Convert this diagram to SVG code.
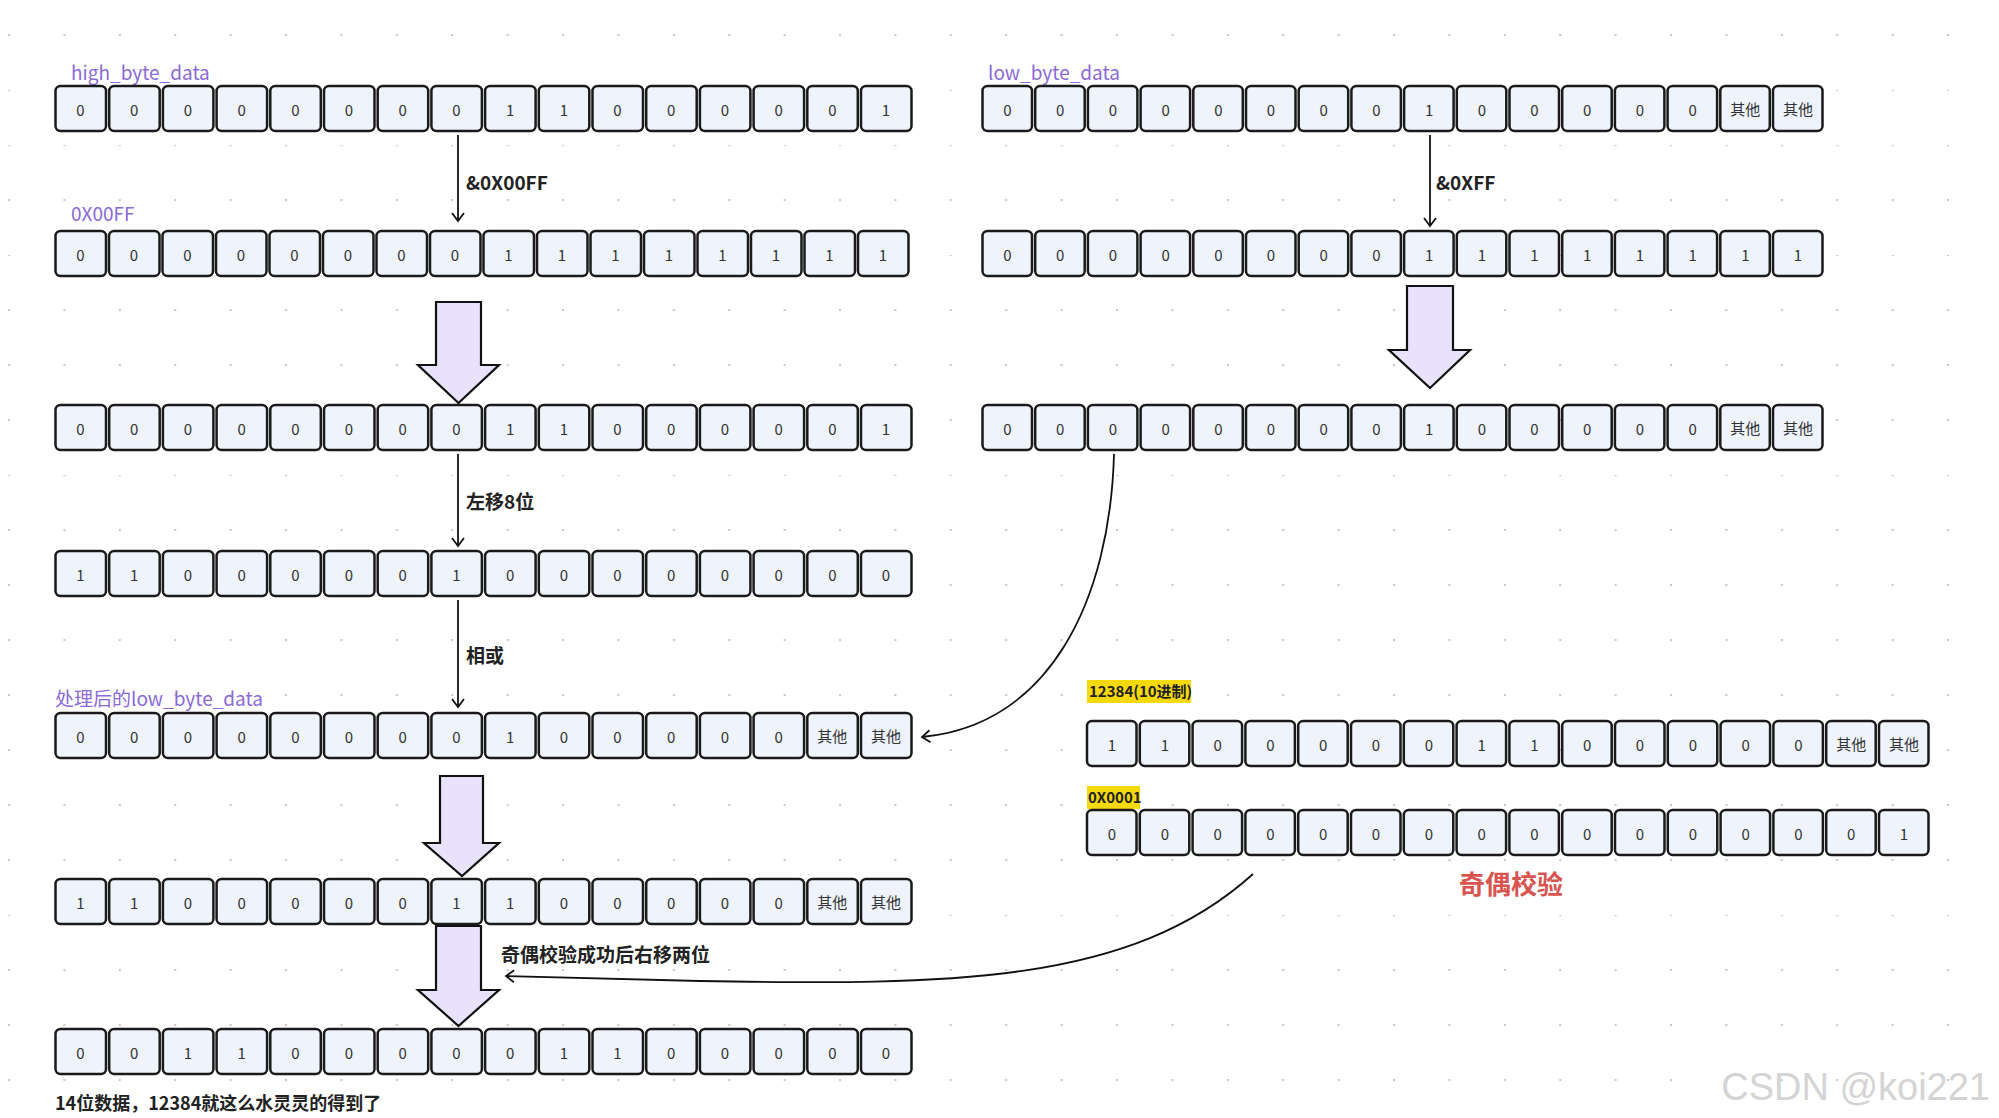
<svg xmlns="http://www.w3.org/2000/svg" xmlns:xlink="http://www.w3.org/1999/xlink" width="1999" height="1118" viewBox="0 0 1999 1118">
<style>
.c{fill:#eef3fc;stroke:#1a1a1a;stroke-width:2.5}
.t{font-family:"Noto Sans CJK SC","Liberation Sans",sans-serif;font-size:15px;fill:#333;text-anchor:middle;dominant-baseline:central}
.lb{font-family:"Noto Sans CJK SC","Liberation Sans",sans-serif;font-size:19px;fill:#8a6ad8}
.op{font-family:"Noto Sans CJK SC","Liberation Sans",sans-serif;font-size:19px;font-weight:bold;fill:#222}
.ln{fill:none;stroke:#111;stroke-width:1.8}
.big{fill:#e9e2fd;stroke:#111;stroke-width:2.2;stroke-linejoin:miter}
</style>
<defs>
<pattern id="dots" x="8" y="34" width="55.4" height="55" patternUnits="userSpaceOnUse"><circle cx="1" cy="1" r="1.2" fill="#c8c8c8"/></pattern>
<rect id="a" class="c" width="50.5" height="45" rx="5"/>
<rect id="b" class="c" width="49.5" height="45" rx="5"/>
<marker id="m" markerWidth="14" markerHeight="14" refX="10" refY="7" orient="auto" markerUnits="userSpaceOnUse"><path d="M2,1 L10,7 L2,13" fill="none" stroke="#111" stroke-width="1.8"/></marker>
</defs>
<rect width="1999" height="1118" fill="#fff"/>
<rect width="1999" height="1118" fill="url(#dots)"/>

<g id="connectors">
<line class="ln" x1="458" y1="135" x2="458" y2="221" marker-end="url(#m)"/>
<line class="ln" x1="458" y1="454" x2="458" y2="546" marker-end="url(#m)"/>
<line class="ln" x1="458" y1="600" x2="458" y2="707" marker-end="url(#m)"/>
<line class="ln" x1="1430" y1="135" x2="1430" y2="226" marker-end="url(#m)"/>
<path class="ln" d="M1114,454 C1110,600 1050,725 922,737" marker-end="url(#m)"/>
<path class="ln" d="M1253,874 C1130,985 950,985 700,981 L506,976" marker-end="url(#m)"/>
<path class="big" d="M436,302 H481 V365 H499 L458.5,403 L418,365 H436 Z"/>
<path class="big" d="M440,776 H483 V843 H499 L462,876 L424,843 H440 Z"/>
<path class="big" d="M436,926 H481 V990 H499 L458.5,1026 L418,990 H436 Z"/>
<path class="big" d="M1407,286 H1453 V350 H1470 L1430,388 L1389,350 H1407 Z"/>
<text class="op" x="466" y="190">&amp;0X00FF</text>
<text class="op" x="466" y="509">左移8位</text>
<text class="op" x="466" y="663">相或</text>
<text class="op" x="1436" y="190">&amp;0XFF</text>
<text class="op" x="501" y="962">奇偶校验成功后右移两位</text>
</g>

<g id="labels">
<text class="lb" x="71" y="80">high_byte_data</text>
<text class="lb" x="71" y="221">0X00FF</text>
<text class="lb" x="55" y="706">处理后的low_byte_data</text>
<text class="lb" x="988" y="80">low_byte_data</text>
<rect x="1087" y="680" width="104" height="23" fill="#f5d90a"/>
<text x="1089" y="697" style="font-family:'Noto Sans CJK SC','Liberation Sans',sans-serif;font-size:15px;font-weight:bold;fill:#222">12384(10进制)</text>
<rect x="1087" y="786" width="53" height="23" fill="#f5d90a"/>
<text x="1088" y="803" style="font-family:'Noto Sans CJK SC','Liberation Sans',sans-serif;font-size:15px;font-weight:bold;fill:#222">0X0001</text>
<text x="1511" y="894" text-anchor="middle" style="font-family:'Noto Sans CJK SC',sans-serif;font-size:26px;font-weight:bold;fill:#d9534f">奇偶校验</text>
<text x="55" y="1110" class="op" style="font-size:18px">14位数据，12384就这么水灵灵的得到了</text>
<text x="1990" y="1100" text-anchor="end" style="font-family:'Liberation Sans',sans-serif;font-size:38px;fill:#d4d4d4">CSDN @koi221</text>
</g>

<g id="rowA" transform="translate(55.5,86)">
<use href="#a" x="0"/><use href="#a" x="53.7"/><use href="#a" x="107.4"/><use href="#a" x="161.1"/><use href="#a" x="214.8"/><use href="#a" x="268.5"/><use href="#a" x="322.2"/><use href="#a" x="375.9"/><use href="#a" x="429.6"/><use href="#a" x="483.3"/><use href="#a" x="537"/><use href="#a" x="590.7"/><use href="#a" x="644.4"/><use href="#a" x="698.1"/><use href="#a" x="751.8"/><use href="#a" x="805.5"/>
<text class="t" y="22.5"><tspan x="25">0</tspan><tspan x="78.7">0</tspan><tspan x="132.4">0</tspan><tspan x="186.1">0</tspan><tspan x="239.8">0</tspan><tspan x="293.5">0</tspan><tspan x="347.2">0</tspan><tspan x="400.9">0</tspan><tspan x="454.6">1</tspan><tspan x="508.3">1</tspan><tspan x="562">0</tspan><tspan x="615.7">0</tspan><tspan x="669.4">0</tspan><tspan x="723.1">0</tspan><tspan x="776.8">0</tspan><tspan x="830.5">1</tspan></text>
</g>
<g id="rowB" transform="translate(55.5,231)">
<use href="#a" x="0"/><use href="#a" x="53.5"/><use href="#a" x="107"/><use href="#a" x="160.5"/><use href="#a" x="214"/><use href="#a" x="267.5"/><use href="#a" x="321"/><use href="#a" x="374.5"/><use href="#a" x="428"/><use href="#a" x="481.5"/><use href="#a" x="535"/><use href="#a" x="588.5"/><use href="#a" x="642"/><use href="#a" x="695.5"/><use href="#a" x="749"/><use href="#a" x="802.5"/>
<text class="t" y="22.5"><tspan x="25">0</tspan><tspan x="78.5">0</tspan><tspan x="132">0</tspan><tspan x="185.5">0</tspan><tspan x="239">0</tspan><tspan x="292.5">0</tspan><tspan x="346">0</tspan><tspan x="399.5">0</tspan><tspan x="453">1</tspan><tspan x="506.5">1</tspan><tspan x="560">1</tspan><tspan x="613.5">1</tspan><tspan x="667">1</tspan><tspan x="720.5">1</tspan><tspan x="774">1</tspan><tspan x="827.5">1</tspan></text>
</g>
<g id="rowC" transform="translate(55.5,405)">
<use href="#a" x="0"/><use href="#a" x="53.7"/><use href="#a" x="107.4"/><use href="#a" x="161.1"/><use href="#a" x="214.8"/><use href="#a" x="268.5"/><use href="#a" x="322.2"/><use href="#a" x="375.9"/><use href="#a" x="429.6"/><use href="#a" x="483.3"/><use href="#a" x="537"/><use href="#a" x="590.7"/><use href="#a" x="644.4"/><use href="#a" x="698.1"/><use href="#a" x="751.8"/><use href="#a" x="805.5"/>
<text class="t" y="22.5"><tspan x="25">0</tspan><tspan x="78.7">0</tspan><tspan x="132.4">0</tspan><tspan x="186.1">0</tspan><tspan x="239.8">0</tspan><tspan x="293.5">0</tspan><tspan x="347.2">0</tspan><tspan x="400.9">0</tspan><tspan x="454.6">1</tspan><tspan x="508.3">1</tspan><tspan x="562">0</tspan><tspan x="615.7">0</tspan><tspan x="669.4">0</tspan><tspan x="723.1">0</tspan><tspan x="776.8">0</tspan><tspan x="830.5">1</tspan></text>
</g>
<g id="rowD" transform="translate(55.5,551)">
<use href="#a" x="0"/><use href="#a" x="53.7"/><use href="#a" x="107.4"/><use href="#a" x="161.1"/><use href="#a" x="214.8"/><use href="#a" x="268.5"/><use href="#a" x="322.2"/><use href="#a" x="375.9"/><use href="#a" x="429.6"/><use href="#a" x="483.3"/><use href="#a" x="537"/><use href="#a" x="590.7"/><use href="#a" x="644.4"/><use href="#a" x="698.1"/><use href="#a" x="751.8"/><use href="#a" x="805.5"/>
<text class="t" y="22.5"><tspan x="25">1</tspan><tspan x="78.7">1</tspan><tspan x="132.4">0</tspan><tspan x="186.1">0</tspan><tspan x="239.8">0</tspan><tspan x="293.5">0</tspan><tspan x="347.2">0</tspan><tspan x="400.9">1</tspan><tspan x="454.6">0</tspan><tspan x="508.3">0</tspan><tspan x="562">0</tspan><tspan x="615.7">0</tspan><tspan x="669.4">0</tspan><tspan x="723.1">0</tspan><tspan x="776.8">0</tspan><tspan x="830.5">0</tspan></text>
</g>
<g id="rowE" transform="translate(55.5,713)">
<use href="#a" x="0"/><use href="#a" x="53.7"/><use href="#a" x="107.4"/><use href="#a" x="161.1"/><use href="#a" x="214.8"/><use href="#a" x="268.5"/><use href="#a" x="322.2"/><use href="#a" x="375.9"/><use href="#a" x="429.6"/><use href="#a" x="483.3"/><use href="#a" x="537"/><use href="#a" x="590.7"/><use href="#a" x="644.4"/><use href="#a" x="698.1"/><use href="#a" x="751.8"/><use href="#a" x="805.5"/>
<text class="t" y="22.5"><tspan x="25">0</tspan><tspan x="78.7">0</tspan><tspan x="132.4">0</tspan><tspan x="186.1">0</tspan><tspan x="239.8">0</tspan><tspan x="293.5">0</tspan><tspan x="347.2">0</tspan><tspan x="400.9">0</tspan><tspan x="454.6">1</tspan><tspan x="508.3">0</tspan><tspan x="562">0</tspan><tspan x="615.7">0</tspan><tspan x="669.4">0</tspan><tspan x="723.1">0</tspan></text>
<text class="t" x="776.8" y="22.5">其他</text><text class="t" x="830.5" y="22.5">其他</text>
</g>
<g id="rowF" transform="translate(55.5,879)">
<use href="#a" x="0"/><use href="#a" x="53.7"/><use href="#a" x="107.4"/><use href="#a" x="161.1"/><use href="#a" x="214.8"/><use href="#a" x="268.5"/><use href="#a" x="322.2"/><use href="#a" x="375.9"/><use href="#a" x="429.6"/><use href="#a" x="483.3"/><use href="#a" x="537"/><use href="#a" x="590.7"/><use href="#a" x="644.4"/><use href="#a" x="698.1"/><use href="#a" x="751.8"/><use href="#a" x="805.5"/>
<text class="t" y="22.5"><tspan x="25">1</tspan><tspan x="78.7">1</tspan><tspan x="132.4">0</tspan><tspan x="186.1">0</tspan><tspan x="239.8">0</tspan><tspan x="293.5">0</tspan><tspan x="347.2">0</tspan><tspan x="400.9">1</tspan><tspan x="454.6">1</tspan><tspan x="508.3">0</tspan><tspan x="562">0</tspan><tspan x="615.7">0</tspan><tspan x="669.4">0</tspan><tspan x="723.1">0</tspan></text>
<text class="t" x="776.8" y="22.5">其他</text><text class="t" x="830.5" y="22.5">其他</text>
</g>
<g id="rowG" transform="translate(55.5,1029)">
<use href="#a" x="0"/><use href="#a" x="53.7"/><use href="#a" x="107.4"/><use href="#a" x="161.1"/><use href="#a" x="214.8"/><use href="#a" x="268.5"/><use href="#a" x="322.2"/><use href="#a" x="375.9"/><use href="#a" x="429.6"/><use href="#a" x="483.3"/><use href="#a" x="537"/><use href="#a" x="590.7"/><use href="#a" x="644.4"/><use href="#a" x="698.1"/><use href="#a" x="751.8"/><use href="#a" x="805.5"/>
<text class="t" y="22.5"><tspan x="25">0</tspan><tspan x="78.7">0</tspan><tspan x="132.4">1</tspan><tspan x="186.1">1</tspan><tspan x="239.8">0</tspan><tspan x="293.5">0</tspan><tspan x="347.2">0</tspan><tspan x="400.9">0</tspan><tspan x="454.6">0</tspan><tspan x="508.3">1</tspan><tspan x="562">1</tspan><tspan x="615.7">0</tspan><tspan x="669.4">0</tspan><tspan x="723.1">0</tspan><tspan x="776.8">0</tspan><tspan x="830.5">0</tspan></text>
</g>

<g id="rowR1" transform="translate(982.5,86)">
<use href="#b" x="0"/><use href="#b" x="52.7"/><use href="#b" x="105.4"/><use href="#b" x="158.1"/><use href="#b" x="210.8"/><use href="#b" x="263.5"/><use href="#b" x="316.2"/><use href="#b" x="368.9"/><use href="#b" x="421.6"/><use href="#b" x="474.3"/><use href="#b" x="527"/><use href="#b" x="579.7"/><use href="#b" x="632.4"/><use href="#b" x="685.1"/><use href="#b" x="737.8"/><use href="#b" x="790.5"/>
<text class="t" y="22.5"><tspan x="25">0</tspan><tspan x="77.7">0</tspan><tspan x="130.4">0</tspan><tspan x="183.1">0</tspan><tspan x="235.8">0</tspan><tspan x="288.5">0</tspan><tspan x="341.2">0</tspan><tspan x="393.9">0</tspan><tspan x="446.6">1</tspan><tspan x="499.3">0</tspan><tspan x="552">0</tspan><tspan x="604.7">0</tspan><tspan x="657.4">0</tspan><tspan x="710.1">0</tspan></text>
<text class="t" x="762.8" y="22.5">其他</text><text class="t" x="815.5" y="22.5">其他</text>
</g>
<g id="rowR2" transform="translate(982.5,231)">
<use href="#b" x="0"/><use href="#b" x="52.7"/><use href="#b" x="105.4"/><use href="#b" x="158.1"/><use href="#b" x="210.8"/><use href="#b" x="263.5"/><use href="#b" x="316.2"/><use href="#b" x="368.9"/><use href="#b" x="421.6"/><use href="#b" x="474.3"/><use href="#b" x="527"/><use href="#b" x="579.7"/><use href="#b" x="632.4"/><use href="#b" x="685.1"/><use href="#b" x="737.8"/><use href="#b" x="790.5"/>
<text class="t" y="22.5"><tspan x="25">0</tspan><tspan x="77.7">0</tspan><tspan x="130.4">0</tspan><tspan x="183.1">0</tspan><tspan x="235.8">0</tspan><tspan x="288.5">0</tspan><tspan x="341.2">0</tspan><tspan x="393.9">0</tspan><tspan x="446.6">1</tspan><tspan x="499.3">1</tspan><tspan x="552">1</tspan><tspan x="604.7">1</tspan><tspan x="657.4">1</tspan><tspan x="710.1">1</tspan><tspan x="762.8">1</tspan><tspan x="815.5">1</tspan></text>
</g>
<g id="rowR3" transform="translate(982.5,405)">
<use href="#b" x="0"/><use href="#b" x="52.7"/><use href="#b" x="105.4"/><use href="#b" x="158.1"/><use href="#b" x="210.8"/><use href="#b" x="263.5"/><use href="#b" x="316.2"/><use href="#b" x="368.9"/><use href="#b" x="421.6"/><use href="#b" x="474.3"/><use href="#b" x="527"/><use href="#b" x="579.7"/><use href="#b" x="632.4"/><use href="#b" x="685.1"/><use href="#b" x="737.8"/><use href="#b" x="790.5"/>
<text class="t" y="22.5"><tspan x="25">0</tspan><tspan x="77.7">0</tspan><tspan x="130.4">0</tspan><tspan x="183.1">0</tspan><tspan x="235.8">0</tspan><tspan x="288.5">0</tspan><tspan x="341.2">0</tspan><tspan x="393.9">0</tspan><tspan x="446.6">1</tspan><tspan x="499.3">0</tspan><tspan x="552">0</tspan><tspan x="604.7">0</tspan><tspan x="657.4">0</tspan><tspan x="710.1">0</tspan></text>
<text class="t" x="762.8" y="22.5">其他</text><text class="t" x="815.5" y="22.5">其他</text>
</g>
<g id="rowR4" transform="translate(1087,721)">
<use href="#b" x="0"/><use href="#b" x="52.8"/><use href="#b" x="105.6"/><use href="#b" x="158.4"/><use href="#b" x="211.2"/><use href="#b" x="264"/><use href="#b" x="316.8"/><use href="#b" x="369.6"/><use href="#b" x="422.4"/><use href="#b" x="475.2"/><use href="#b" x="528"/><use href="#b" x="580.8"/><use href="#b" x="633.6"/><use href="#b" x="686.4"/><use href="#b" x="739.2"/><use href="#b" x="792"/>
<text class="t" y="22.5"><tspan x="25">1</tspan><tspan x="77.8">1</tspan><tspan x="130.6">0</tspan><tspan x="183.4">0</tspan><tspan x="236.2">0</tspan><tspan x="289">0</tspan><tspan x="341.8">0</tspan><tspan x="394.6">1</tspan><tspan x="447.4">1</tspan><tspan x="500.2">0</tspan><tspan x="553">0</tspan><tspan x="605.8">0</tspan><tspan x="658.6">0</tspan><tspan x="711.4">0</tspan></text>
<text class="t" x="764.2" y="22.5">其他</text><text class="t" x="817" y="22.5">其他</text>
</g>
<g id="rowR5" transform="translate(1087,810)">
<use href="#b" x="0"/><use href="#b" x="52.8"/><use href="#b" x="105.6"/><use href="#b" x="158.4"/><use href="#b" x="211.2"/><use href="#b" x="264"/><use href="#b" x="316.8"/><use href="#b" x="369.6"/><use href="#b" x="422.4"/><use href="#b" x="475.2"/><use href="#b" x="528"/><use href="#b" x="580.8"/><use href="#b" x="633.6"/><use href="#b" x="686.4"/><use href="#b" x="739.2"/><use href="#b" x="792"/>
<text class="t" y="22.5"><tspan x="25">0</tspan><tspan x="77.8">0</tspan><tspan x="130.6">0</tspan><tspan x="183.4">0</tspan><tspan x="236.2">0</tspan><tspan x="289">0</tspan><tspan x="341.8">0</tspan><tspan x="394.6">0</tspan><tspan x="447.4">0</tspan><tspan x="500.2">0</tspan><tspan x="553">0</tspan><tspan x="605.8">0</tspan><tspan x="658.6">0</tspan><tspan x="711.4">0</tspan><tspan x="764.2">0</tspan><tspan x="817">1</tspan></text>
</g>
</svg>
